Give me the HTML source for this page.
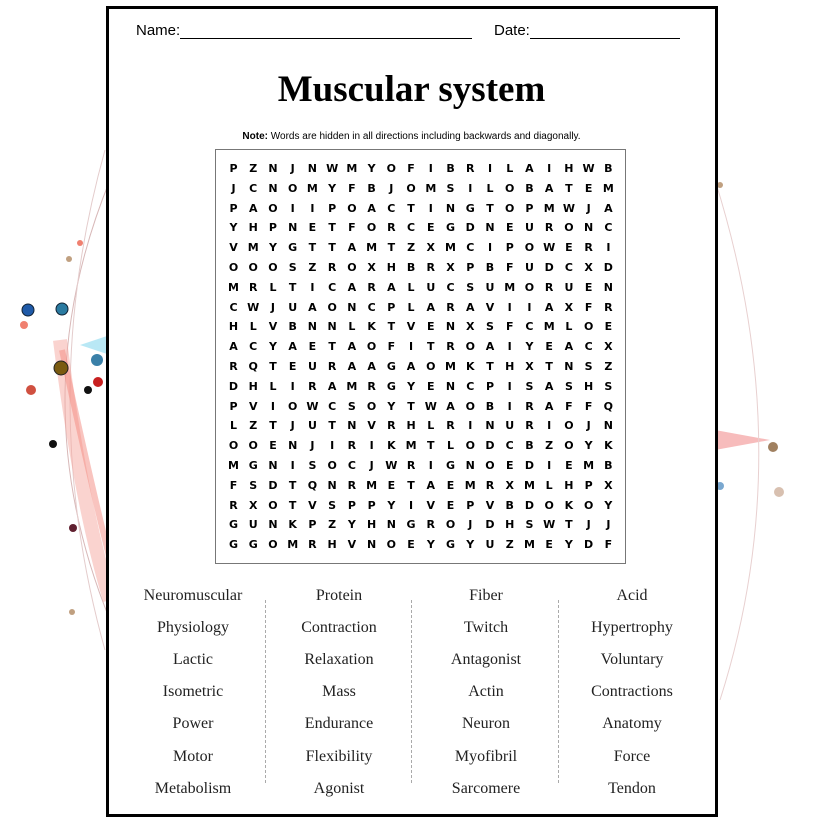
<!DOCTYPE html>
<html><head><meta charset="utf-8"><style>
body{margin:0;width:823px;height:823px;background:#fff;position:relative;overflow:hidden;font-family:"Liberation Sans",sans-serif}
.page{position:absolute;left:106px;top:6px;width:606px;height:805px;border:3px solid #000;background:#fff}
.hdr{position:absolute;top:22px;font-size:15px;color:#000;white-space:nowrap}
.u{display:inline-block;border-bottom:1px solid #000;height:15px;vertical-align:bottom}
.title{position:absolute;left:0;width:823px;top:68px;text-align:center;font-family:"Liberation Serif",serif;font-weight:bold;font-size:37px}
.note{position:absolute;left:0;width:823px;top:131px;text-align:center;font-size:10px}
.grid{position:absolute;left:215px;top:149px;width:411px;height:415px;border:1.5px solid #777;box-sizing:border-box}
.l{position:absolute;font-family:"DejaVu Sans",sans-serif;font-weight:bold;font-size:11px;width:16px;text-align:center;transform:translate(-8px,-7px)}
.w{position:absolute;font-family:"Liberation Serif",serif;font-size:16px;width:160px;text-align:center;transform:translateX(-80px);color:#222}
.sep{position:absolute;top:600px;height:183px;border-left:1.5px dashed #aaa}
</style></head><body>
<svg width="823" height="823" style="position:absolute;left:0;top:0">
<path d="M110 180 Q20 400 110 620" stroke="#d8b8b8" fill="none"/>
<path d="M105 150 Q35 400 105 650" stroke="#e4cccc" fill="none"/>
<path d="M60 340 Q80 500 110 600" stroke="#f6a8a0" stroke-width="14" fill="none" opacity=".5"/>
<path d="M62 350 Q90 480 110 560" stroke="#f48a80" stroke-width="6" fill="none" opacity=".5"/>
<path d="M80 345 L110 335 L110 355Z" fill="#8ad8ee" opacity=".6"/>
<circle cx="28" cy="310" r="6" fill="#1f5aa8" stroke="#123"/>
<circle cx="62" cy="309" r="6" fill="#2a7aa0" stroke="#123"/>
<circle cx="61" cy="368" r="7" fill="#7a5a10" stroke="#222"/>
<circle cx="97" cy="360" r="6" fill="#3a80a8"/>
<circle cx="98" cy="382" r="5" fill="#c82020"/>
<circle cx="31" cy="390" r="5" fill="#d05040"/>
<circle cx="88" cy="390" r="4" fill="#111"/>
<circle cx="53" cy="444" r="4" fill="#111"/>
<circle cx="73" cy="528" r="4" fill="#602030"/>
<circle cx="24" cy="325" r="4" fill="#f08070"/>
<circle cx="80" cy="243" r="3" fill="#f08070"/>
<circle cx="69" cy="259" r="3" fill="#c0a080"/>
<circle cx="72" cy="612" r="3" fill="#c0a080"/>
<path d="M715 430 L770 440 L715 450Z" fill="#f4a0a0" opacity=".7"/>
<path d="M715 180 Q800 450 720 700" stroke="#e8d0d0" fill="none"/>
<circle cx="773" cy="447" r="5" fill="#a08060"/>
<circle cx="779" cy="492" r="5" fill="#d8c0b0"/>
<circle cx="720" cy="486" r="4" fill="#7aa8d0"/>
<circle cx="720" cy="185" r="3" fill="#c0a080"/>
</svg>
<div class="page"></div>
<div class="hdr" style="left:136px">Name:<span class="u" style="width:292px"></span></div>
<div class="hdr" style="left:494px">Date:<span class="u" style="width:150px"></span></div>
<div class="title">Muscular system</div>
<div class="note"><b>Note:</b> Words are hidden in all directions including backwards and diagonally.</div>
<div class="grid"></div>
<div id="g"></div>
<div class="sep" style="left:265px"></div><div class="sep" style="left:411px"></div><div class="sep" style="left:558px"></div>
<div class="w" style="left:193px;top:587px">Neuromuscular</div><div class="w" style="left:339px;top:587px">Protein</div><div class="w" style="left:486px;top:587px">Fiber</div><div class="w" style="left:632px;top:587px">Acid</div>
<div class="w" style="left:193px;top:619px">Physiology</div><div class="w" style="left:339px;top:619px">Contraction</div><div class="w" style="left:486px;top:619px">Twitch</div><div class="w" style="left:632px;top:619px">Hypertrophy</div>
<div class="w" style="left:193px;top:651px">Lactic</div><div class="w" style="left:339px;top:651px">Relaxation</div><div class="w" style="left:486px;top:651px">Antagonist</div><div class="w" style="left:632px;top:651px">Voluntary</div>
<div class="w" style="left:193px;top:683px">Isometric</div><div class="w" style="left:339px;top:683px">Mass</div><div class="w" style="left:486px;top:683px">Actin</div><div class="w" style="left:632px;top:683px">Contractions</div>
<div class="w" style="left:193px;top:715px">Power</div><div class="w" style="left:339px;top:715px">Endurance</div><div class="w" style="left:486px;top:715px">Neuron</div><div class="w" style="left:632px;top:715px">Anatomy</div>
<div class="w" style="left:193px;top:748px">Motor</div><div class="w" style="left:339px;top:748px">Flexibility</div><div class="w" style="left:486px;top:748px">Myofibril</div><div class="w" style="left:632px;top:748px">Force</div>
<div class="w" style="left:193px;top:780px">Metabolism</div><div class="w" style="left:339px;top:780px">Agonist</div><div class="w" style="left:486px;top:780px">Sarcomere</div><div class="w" style="left:632px;top:780px">Tendon</div>
<script>
var rows=["PZNJNWMYOFIBRILAIHWB","JCNOMYFBJOMSILOBATEM","PAOIIPOACTINGTOPMWJA","YHPNETFORCEGDNEURONC","VMYGTTAMTZXMCIPOWERI","OOOSZROXHBRXPBFUDCXD","MRLTICARALUCSUMORUEN","CWJUAONCPLARAVIIAXFR","HLVBNNLKTVENXSFCMLOE","ACYAETAOFITROAIYEACX","RQTEURAAGAOMKTHXTNSZ","DHLIRAMRGYENCPISASHS","PVIOWCSOYTWAOBIRAFFQ","LZTJUTNVRHLRINURIOJN","OOENJIRIKMTLODCBZOYK","MGNISOCJWRIGNOEDIEMB","FSDTQNRMETAEMRXMLHPX","RXOTVSPPYIVEPVBDOKOY","GUNKPZYHNGROJDHSWTJJ","GGOMRHVNOEYGYUZMEYDF"];
var h="";for(var r=0;r<20;r++)for(var c=0;c<20;c++)h+='<div class="l" style="left:'+(233.5+c*19.73)+'px;top:'+(169+r*19.8)+'px">'+rows[r][c]+'</div>';
document.getElementById("g").innerHTML=h;
</script>
</body></html>
